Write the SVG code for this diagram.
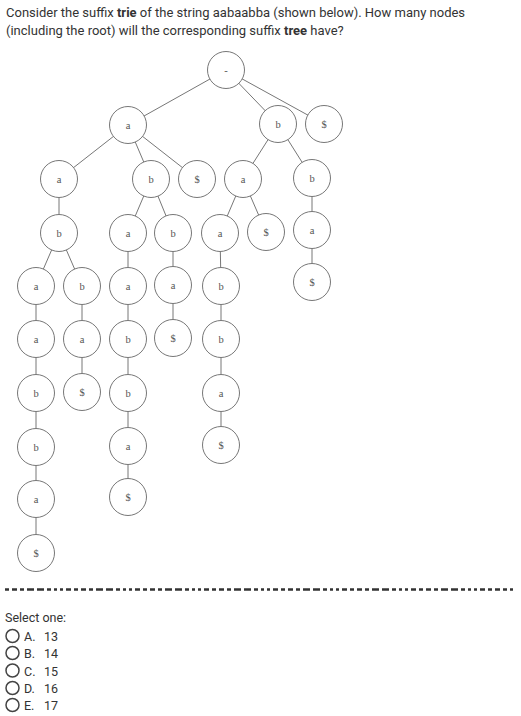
<svg xmlns="http://www.w3.org/2000/svg" width="521" height="716" viewBox="0 0 521 716">
<style>
.q{font-family:Roboto,"Liberation Sans",sans-serif;font-size:13px;fill:#333}
.q .b{font-weight:bold}
.o{font-family:Roboto,"Liberation Sans",sans-serif;font-size:12.5px;fill:#333}
.n circle{fill:#fff;stroke:#777;stroke-width:1}
.n text{font-family:"Liberation Serif","DejaVu Serif",serif;font-size:10.5px;fill:#555;text-anchor:middle;dominant-baseline:central}
#edges line{stroke:#777;stroke-width:1}
.r{fill:none;stroke:#444;stroke-width:1.5}
</style>
<rect width="521" height="716" fill="#fff"/>
<text class="q" x="6" y="17">Consider the suffix <tspan class="b">trie</tspan> of the string aabaabba (shown below). How many nodes</text>
<text class="q" x="6" y="35">(including the root) will the corresponding suffix <tspan class="b">tree</tspan> have?</text>
<g id="edges">
<line x1="226" y1="70" x2="128" y2="125"/>
<line x1="226" y1="70" x2="278" y2="124"/>
<line x1="226" y1="70" x2="324" y2="124"/>
<line x1="128" y1="125" x2="59" y2="179"/>
<line x1="128" y1="125" x2="151" y2="179"/>
<line x1="128" y1="125" x2="197" y2="179"/>
<line x1="278" y1="124" x2="243" y2="179"/>
<line x1="278" y1="124" x2="312" y2="178"/>
<line x1="59" y1="179" x2="59" y2="233"/>
<line x1="151" y1="179" x2="128" y2="233"/>
<line x1="151" y1="179" x2="173" y2="233"/>
<line x1="243" y1="179" x2="220" y2="233"/>
<line x1="243" y1="179" x2="266" y2="232"/>
<line x1="312" y1="178" x2="312" y2="230"/>
<line x1="59" y1="233" x2="36" y2="286"/>
<line x1="59" y1="233" x2="82" y2="286"/>
<line x1="128" y1="233" x2="128" y2="286"/>
<line x1="173" y1="233" x2="173" y2="285"/>
<line x1="220" y1="233" x2="221" y2="286"/>
<line x1="312" y1="230" x2="312" y2="282"/>
<line x1="36" y1="286" x2="36" y2="553"/>
<line x1="82" y1="286" x2="82" y2="392"/>
<line x1="128" y1="286" x2="128" y2="497"/>
<line x1="173" y1="285" x2="173" y2="338"/>
<line x1="221" y1="286" x2="221" y2="445"/>
</g>
<g id="n0" class="n"><circle cx="226" cy="70" r="18.5"/><text x="226" y="70">-</text></g>
<g id="n1" class="n"><circle cx="128" cy="125" r="18.5"/><text x="128" y="125">a</text></g>
<g id="n2" class="n"><circle cx="278" cy="124" r="18.5"/><text x="278" y="124">b</text></g>
<g id="n3" class="n"><circle cx="324" cy="124" r="18.5"/><text x="324" y="124">$</text></g>
<g id="n4" class="n"><circle cx="59" cy="179" r="18.5"/><text x="59" y="179">a</text></g>
<g id="n5" class="n"><circle cx="151" cy="179" r="18.5"/><text x="151" y="179">b</text></g>
<g id="n6" class="n"><circle cx="197" cy="179" r="18.5"/><text x="197" y="179">$</text></g>
<g id="n7" class="n"><circle cx="243" cy="179" r="18.5"/><text x="243" y="179">a</text></g>
<g id="n8" class="n"><circle cx="312" cy="178" r="18.5"/><text x="312" y="178">b</text></g>
<g id="n9" class="n"><circle cx="59" cy="233" r="18.5"/><text x="59" y="233">b</text></g>
<g id="n10" class="n"><circle cx="128" cy="233" r="18.5"/><text x="128" y="233">a</text></g>
<g id="n11" class="n"><circle cx="173" cy="233" r="18.5"/><text x="173" y="233">b</text></g>
<g id="n12" class="n"><circle cx="220" cy="233" r="18.5"/><text x="220" y="233">a</text></g>
<g id="n13" class="n"><circle cx="266" cy="232" r="18.5"/><text x="266" y="232">$</text></g>
<g id="n14" class="n"><circle cx="312" cy="230" r="18.5"/><text x="312" y="230">a</text></g>
<g id="n15" class="n"><circle cx="36" cy="286" r="18.5"/><text x="36" y="286">a</text></g>
<g id="n16" class="n"><circle cx="82" cy="286" r="18.5"/><text x="82" y="286">b</text></g>
<g id="n17" class="n"><circle cx="128" cy="286" r="18.5"/><text x="128" y="286">a</text></g>
<g id="n18" class="n"><circle cx="173" cy="285" r="18.5"/><text x="173" y="285">a</text></g>
<g id="n19" class="n"><circle cx="221" cy="286" r="18.5"/><text x="221" y="286">b</text></g>
<g id="n20" class="n"><circle cx="312" cy="282" r="18.5"/><text x="312" y="282">$</text></g>
<g id="n21" class="n"><circle cx="36" cy="339" r="18.5"/><text x="36" y="339">a</text></g>
<g id="n22" class="n"><circle cx="82" cy="339" r="18.5"/><text x="82" y="339">a</text></g>
<g id="n23" class="n"><circle cx="128" cy="339" r="18.5"/><text x="128" y="339">b</text></g>
<g id="n24" class="n"><circle cx="173" cy="338" r="18.5"/><text x="173" y="338">$</text></g>
<g id="n25" class="n"><circle cx="221" cy="339" r="18.5"/><text x="221" y="339">b</text></g>
<g id="n26" class="n"><circle cx="36" cy="393" r="18.5"/><text x="36" y="393">b</text></g>
<g id="n27" class="n"><circle cx="82" cy="392" r="18.5"/><text x="82" y="392">$</text></g>
<g id="n28" class="n"><circle cx="128" cy="393" r="18.5"/><text x="128" y="393">b</text></g>
<g id="n29" class="n"><circle cx="221" cy="393" r="18.5"/><text x="221" y="393">a</text></g>
<g id="n30" class="n"><circle cx="36" cy="447" r="18.5"/><text x="36" y="447">b</text></g>
<g id="n31" class="n"><circle cx="128" cy="446" r="18.5"/><text x="128" y="446">a</text></g>
<g id="n32" class="n"><circle cx="221" cy="445" r="18.5"/><text x="221" y="445">$</text></g>
<g id="n33" class="n"><circle cx="36" cy="499" r="18.5"/><text x="36" y="499">a</text></g>
<g id="n34" class="n"><circle cx="128" cy="497" r="18.5"/><text x="128" y="497">$</text></g>
<g id="n35" class="n"><circle cx="36" cy="553" r="18.5"/><text x="36" y="553">$</text></g>
<line x1="5" y1="589.5" x2="513" y2="589.5" stroke="#333" stroke-width="2.5" stroke-dasharray="4 3 5 3 4 3 7 3 7 3 4 3 3 3 3 3 5 3"/>
<text class="o" x="5" y="622">Select one:</text>
<g id="opts">
<circle class="r" cx="12.5" cy="636" r="6.5"/><text class="o" x="24" y="641">A.<tspan x="44">13</tspan></text>
<circle class="r" cx="12.5" cy="653" r="6.5"/><text class="o" x="24" y="658">B.<tspan x="44">14</tspan></text>
<circle class="r" cx="12.5" cy="670.5" r="6.5"/><text class="o" x="24" y="675.5">C.<tspan x="44">15</tspan></text>
<circle class="r" cx="12.5" cy="688" r="6.5"/><text class="o" x="24" y="693">D.<tspan x="44">16</tspan></text>
<circle class="r" cx="12.5" cy="705" r="6.5"/><text class="o" x="24" y="710">E.<tspan x="44">17</tspan></text>
</g>
</svg>
